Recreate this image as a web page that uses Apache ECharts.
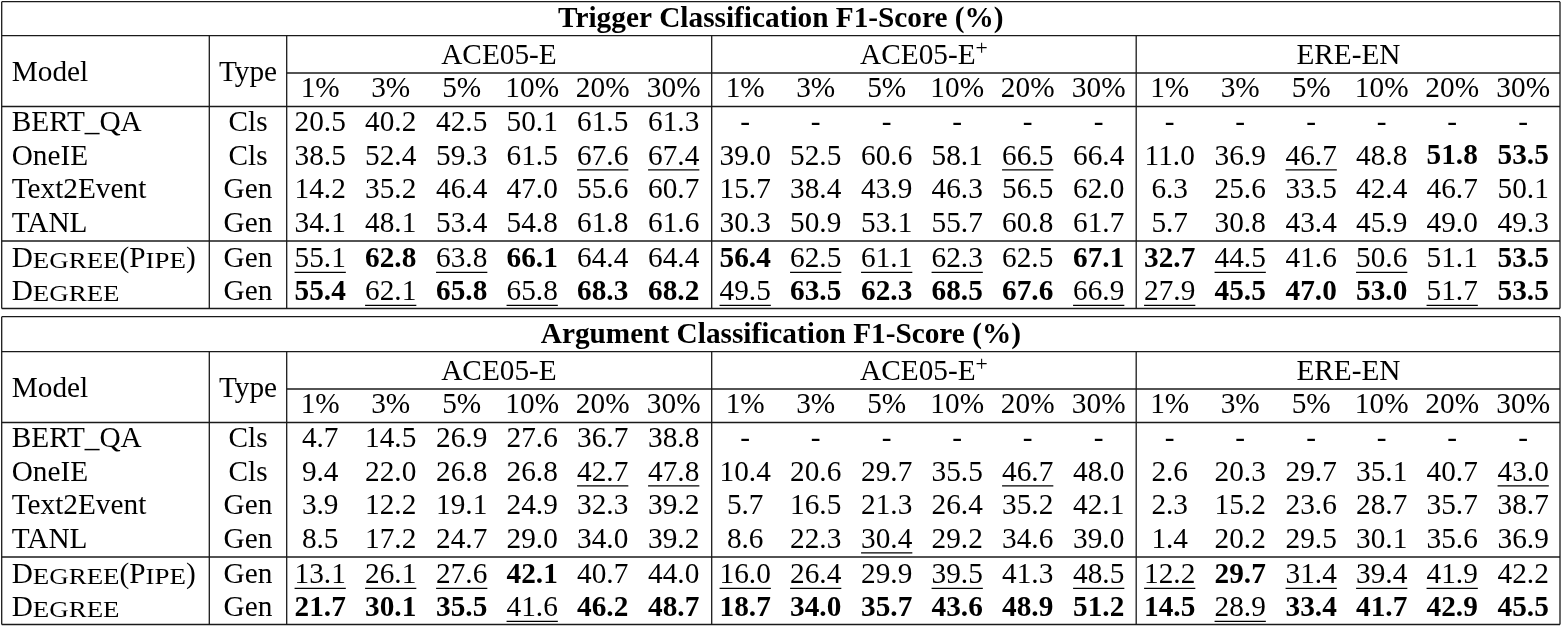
<!DOCTYPE html>
<html>
<head>
<meta charset="utf-8">
<script src="https://cdn.jsdelivr.net/npm/echarts@6/dist/echarts.min.js"></script>
<style>
html,body{margin:0;padding:0;background:#fff;}
#chart{width:1564px;height:628px;}
</style>
</head>
<body>
<div id="chart"></div>
<script>
// ---------------- data ----------------
const tableTitles = ['Trigger Classification F1-Score (%)', 'Argument Classification F1-Score (%)'];
const datasets = ['ACE05-E', 'ACE05-E', 'ERE-EN'];
const datasetSup = ['', '+', ''];
const ratios = ['1%', '3%', '5%', '10%', '20%', '30%'];
const models = ['BERT_QA', 'OneIE', 'Text2Event', 'TANL', 'DEGREE(PIPE)', 'DEGREE'];
const modelSmallCaps = [false, false, false, false, true, true];
const types = ['Cls', 'Cls', 'Gen', 'Gen', 'Gen', 'Gen'];

// null = "-"
const triggerF1 = [
  [20.5, 40.2, 42.5, 50.1, 61.5, 61.3, null, null, null, null, null, null, null, null, null, null, null, null],
  [38.5, 52.4, 59.3, 61.5, 67.6, 67.4, 39.0, 52.5, 60.6, 58.1, 66.5, 66.4, 11.0, 36.9, 46.7, 48.8, 51.8, 53.5],
  [14.2, 35.2, 46.4, 47.0, 55.6, 60.7, 15.7, 38.4, 43.9, 46.3, 56.5, 62.0, 6.3, 25.6, 33.5, 42.4, 46.7, 50.1],
  [34.1, 48.1, 53.4, 54.8, 61.8, 61.6, 30.3, 50.9, 53.1, 55.7, 60.8, 61.7, 5.7, 30.8, 43.4, 45.9, 49.0, 49.3],
  [55.1, 62.8, 63.8, 66.1, 64.4, 64.4, 56.4, 62.5, 61.1, 62.3, 62.5, 67.1, 32.7, 44.5, 41.6, 50.6, 51.1, 53.5],
  [55.4, 62.1, 65.8, 65.8, 68.3, 68.2, 49.5, 63.5, 62.3, 68.5, 67.6, 66.9, 27.9, 45.5, 47.0, 53.0, 51.7, 53.5]
];
// b = bold, u = underline, - = plain
const triggerMarks = [
  '------ ------ ------',
  '----uu ----u- --u-bb',
  '------ ------ ------',
  '------ ------ ------',
  'ubub-- buuu-b bu-u-b',
  'bububb ubbbbu ubbbub'
];
const argumentF1 = [
  [4.7, 14.5, 26.9, 27.6, 36.7, 38.8, null, null, null, null, null, null, null, null, null, null, null, null],
  [9.4, 22.0, 26.8, 26.8, 42.7, 47.8, 10.4, 20.6, 29.7, 35.5, 46.7, 48.0, 2.6, 20.3, 29.7, 35.1, 40.7, 43.0],
  [3.9, 12.2, 19.1, 24.9, 32.3, 39.2, 5.7, 16.5, 21.3, 26.4, 35.2, 42.1, 2.3, 15.2, 23.6, 28.7, 35.7, 38.7],
  [8.5, 17.2, 24.7, 29.0, 34.0, 39.2, 8.6, 22.3, 30.4, 29.2, 34.6, 39.0, 1.4, 20.2, 29.5, 30.1, 35.6, 36.9],
  [13.1, 26.1, 27.6, 42.1, 40.7, 44.0, 16.0, 26.4, 29.9, 39.5, 41.3, 48.5, 12.2, 29.7, 31.4, 39.4, 41.9, 42.2],
  [21.7, 30.1, 35.5, 41.6, 46.2, 48.7, 18.7, 34.0, 35.7, 43.6, 48.9, 51.2, 14.5, 28.9, 33.4, 41.7, 42.9, 45.5]
];
const argumentMarks = [
  '------ ------ ------',
  '----uu ----u- -----u',
  '------ ------ ------',
  '------ --u--- ------',
  'uuub-- uu-u-u ubuuu-',
  'bbbubb bbbbbb bubbbb'
];

// ---------------- layout ----------------
const W = 1564, H = 628;
const FS = 29, SX = 1.01;
const SC_RATIO = 0.8, SC_SX = 1.16;
const FAMILY = '"Liberation Serif","Times New Roman",serif';
const LEFT = 1.7, RIGHT = 1560, MODEL_X = 11.7, TYPE_SEP = 209.3, DATA_SEP = 286.7;
const TYPE_X = (TYPE_SEP + DATA_SEP) / 2;
const GROUP_START = [286.7, 711.7, 1136.2];
const GROUP_W = 424.5;
const COL_OFF = [33.5, 104, 175, 245.5, 316, 387];
const TABLE_OFFSET = [0, 316];
const TABLE_TOP = [1.7, 316.7];
const TY = 2; // text vertical nudge
const Y = { title: 17.5, titleLine: 35.6, ds: 54, partial: 73, pct: 87.5, hdrLine: 106.5,
  head: 71.3, rows: [121.5, 155, 188.5, 222, 257.5, 290.5], sep: 241, bottom: 308.5 };

const mctx = document.createElement('canvas').getContext('2d');
function measure(str, size, weight) {
  mctx.font = (weight || 'normal') + ' ' + size + 'px ' + FAMILY;
  return mctx.measureText(str).width;
}

// ---------------- build cells & rules ----------------
const cells = [];
const rules = [];
function addCell(x, y, c) { c.x = x; c.y = y + TY; cells.push(c); }

[triggerF1, argumentF1].forEach(function (scores, t) {
  const o = TABLE_OFFSET[t];
  const marks = t === 0 ? triggerMarks : argumentMarks;
  rules.push([LEFT, TABLE_TOP[t], RIGHT, TABLE_TOP[t]]);
  rules.push([LEFT, Y.titleLine + o, RIGHT, Y.titleLine + o]);
  rules.push([DATA_SEP, Y.partial + o, RIGHT, Y.partial + o]);
  rules.push([LEFT, Y.hdrLine + o, RIGHT, Y.hdrLine + o]);
  rules.push([LEFT, Y.sep + o, RIGHT, Y.sep + o]);
  rules.push([LEFT, Y.bottom + o, RIGHT, Y.bottom + o]);
  rules.push([LEFT, TABLE_TOP[t], LEFT, Y.bottom + o]);
  rules.push([RIGHT, TABLE_TOP[t], RIGHT, Y.bottom + o]);
  [TYPE_SEP, DATA_SEP, GROUP_START[1], GROUP_START[2]].forEach(function (x) {
    rules.push([x, Y.titleLine + o, x, Y.bottom + o]);
  });
  addCell((LEFT + RIGHT) / 2, Y.title + o, { kind: 'text', text: tableTitles[t], weight: 'bold', align: 'center' });
  addCell(MODEL_X, Y.head + o, { kind: 'text', text: 'Model', align: 'left' });
  addCell(TYPE_X, Y.head + o, { kind: 'text', text: 'Type', align: 'center' });
  datasets.forEach(function (d, g) {
    addCell(GROUP_START[g] + GROUP_W / 2, Y.ds + o, { kind: 'sup', text: d, sup: datasetSup[g] });
    ratios.forEach(function (r, k) {
      addCell(GROUP_START[g] + COL_OFF[k], Y.pct + o, { kind: 'text', text: r, align: 'center' });
    });
  });
  models.forEach(function (m, i) {
    const y = Y.rows[i] + o;
    addCell(MODEL_X, y, { kind: modelSmallCaps[i] ? 'sc' : 'text', text: m, align: 'left' });
    addCell(TYPE_X, y, { kind: 'text', text: types[i], align: 'center' });
    const mk = marks[i].replace(/ /g, '');
    scores[i].forEach(function (v, j) {
      const g = Math.floor(j / 6), k = j % 6;
      const txt = v === null ? '-' : v.toFixed(1);
      addCell(GROUP_START[g] + COL_OFF[k], y, {
        kind: 'text', text: txt, align: 'center',
        weight: mk[j] === 'b' ? 'bold' : 'normal', underline: mk[j] === 'u'
      });
    });
  });
});

// ---------------- rendering helpers ----------------
function textEl(x, y, str, size, weight, align, sx) {
  return {
    type: 'text', x: x, y: y, scaleX: sx, scaleY: 1,
    style: { text: str, fontSize: size, fontFamily: FAMILY, fontWeight: weight || 'normal',
      fill: '#000', align: align, verticalAlign: 'middle' }
  };
}
function scSegments(str) {
  const segs = [];
  let prevLetter = false;
  for (const ch of str) {
    const isLetter = /[A-Za-z]/.test(ch);
    const small = isLetter && prevLetter;
    const last = segs[segs.length - 1];
    if (last && last.small === small) last.s += ch; else segs.push({ s: ch, small: small });
    prevLetter = isLetter;
  }
  return segs;
}

function renderCell(params, api) {
  const c = cells[params.dataIndex];
  const p = api.coord([api.value(0), api.value(1)]);
  const x = p[0], y = p[1];
  if (c.kind === 'text') {
    const children = [textEl(x, y, c.text, FS, c.weight, c.align, SX)];
    if (c.underline) {
      const w = measure(c.text, FS, c.weight) * SX;
      const x0 = c.align === 'left' ? x : x - w / 2;
      const uy = y + 0.3375 * FS + 3;
      children.push({ type: 'line', shape: { x1: x0, y1: uy, x2: x0 + w, y2: uy },
        style: { stroke: '#000', lineWidth: 1.2 } });
    }
    return { type: 'group', children: children };
  }
  if (c.kind === 'sup') {
    const supSize = FS * 0.74;
    const wMain = measure(c.text, FS) * SX;
    const wSup = c.sup ? measure(c.sup, supSize) * SX : 0;
    const x0 = x - (wMain + wSup) / 2;
    const children = [textEl(x0, y, c.text, FS, 'normal', 'left', SX)];
    if (c.sup) children.push(textEl(x0 + wMain, y - 7, c.sup, supSize, 'normal', 'left', SX));
    return { type: 'group', children: children };
  }
  if (c.kind === 'sc') {
    const children = [];
    let cx = x;
    const smallSize = FS * SC_RATIO;
    scSegments(c.text).forEach(function (seg) {
      const size = seg.small ? smallSize : FS;
      const sx = seg.small ? SC_SX : SX;
      const dy = seg.small ? 0.3375 * (FS - smallSize) : 0;
      children.push(textEl(cx, y + dy, seg.s, size, 'normal', 'left', sx));
      cx += measure(seg.s, size) * sx;
    });
    return { type: 'group', children: children };
  }
  return null;
}

function renderRule(params, api) {
  const p1 = api.coord([api.value(0), api.value(1)]);
  const p2 = api.coord([api.value(2), api.value(3)]);
  return { type: 'line', shape: { x1: p1[0], y1: p1[1], x2: p2[0], y2: p2[1] },
    style: { stroke: '#1a1a1a', lineWidth: 1.3 } };
}

// ---------------- chart ----------------
const chart = echarts.init(document.getElementById('chart'), null, { renderer: 'canvas' });
chart.setOption({
  backgroundColor: '#ffffff',
  animation: false,
  grid: { left: 0, right: 0, top: 0, bottom: 0 },
  xAxis: { type: 'value', min: 0, max: W, show: false },
  yAxis: { type: 'value', min: 0, max: H, inverse: true, show: false },
  series: [
    { type: 'custom', name: 'rules', coordinateSystem: 'cartesian2d', silent: true,
      renderItem: renderRule, data: rules, clip: false },
    { type: 'custom', name: 'cells', coordinateSystem: 'cartesian2d', silent: true,
      renderItem: renderCell, data: cells.map(function (c) { return [c.x, c.y]; }), clip: false }
  ]
});
</script>
</body>
</html>
